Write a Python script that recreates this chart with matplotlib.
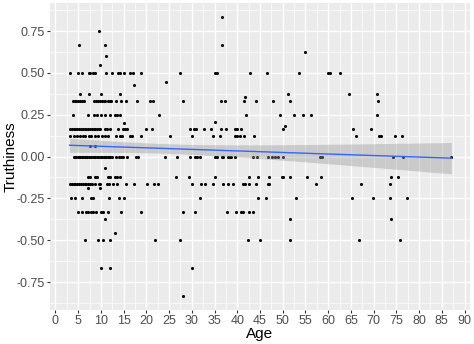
import numpy as np
import matplotlib
matplotlib.use("Agg")
import matplotlib.pyplot as plt

plt.rcParams['font.family'] = ['Liberation Sans', 'DejaVu Sans']

# ages at each truthiness level
age_p833 = [36.6]
age_p75 = [9.5]
age_p667 = [5.1, 10.8, 36.6]
age_p625 = [54.9]
age_p6 = [11.1]
age_p545 = [9.9]
age_p5 = [3.1, 5.0, 5.9, 7.3, 7.7, 8.2, 8.6, 11.1, 12.4, 13.8, 14.2, 15.1, 16.5, 17.1,
          18.9, 27.3, 35.1, 35.6, 42.9, 46.5, 53.5, 60.0, 60.3, 62.6]
age_p444 = [24.3]
age_p429 = [17.2]
age_p375 = [5.5, 7.3, 10.0, 14.3, 51.1, 64.5, 70.7]
age_p357 = [41.6]
age_p333 = [3.8, 4.2, 4.6, 5.0, 5.4, 5.8, 6.2, 8.5, 8.9, 9.3, 9.8, 10.3, 10.6, 11.0, 11.5,
            12.0, 12.3, 13.3, 14.5, 15.6, 17.9, 20.7, 21.5, 28.0, 36.5, 37.3, 41.4, 44.2,
            47.9, 51.7, 70.9]
age_p25 = [3.9, 7.2, 8.4, 9.1, 10.0, 10.9, 11.9, 13.0, 13.6, 14.3, 22.7, 41.9, 49.4, 52.5,
           54.4, 56.3, 70.7]
age_p208 = [35.1]
age_p2 = [15.1]
age_p183 = [50.6]
age_p167 = [3.3, 3.7, 4.0, 4.4, 4.8, 5.2, 5.6, 6.0, 6.4, 6.8, 7.2, 7.6, 8.0, 8.4, 8.8, 9.1,
            9.5, 9.9, 11.0, 11.4, 12.1, 13.7, 14.8, 15.4, 15.8, 20.0, 21.3, 29.5, 30.4, 30.9,
            32.6, 34.2, 36.5, 37.5, 39.4, 39.9, 40.8, 50.1, 65.5, 69.4]
age_p125 = [3.3, 4.0, 4.8, 5.5, 6.0, 6.4, 7.3, 7.8, 8.8, 9.3, 10.2, 11.0, 11.6, 13.4, 14.3,
            14.6, 16.5, 16.8, 18.9, 25.2, 30.1, 34.6, 36.2, 39.4, 40.0, 40.5, 41.5, 43.7,
            66.1, 71.1, 71.7, 74.8, 76.2]
age_p0625 = [7.5, 8.8]
age_0 = [4.0, 4.3, 4.6, 4.9, 5.2, 5.5, 5.8, 6.1, 6.4, 6.7, 7.0, 7.3, 7.6, 7.9, 8.2, 8.5, 8.8,
         9.1, 9.4, 9.7, 10.0, 10.3, 10.6, 10.9, 11.2, 11.5, 11.8, 12.1, 12.4, 13.4, 13.9,
         14.5, 14.9, 15.8, 17.8, 18.1, 24.1, 26.8, 29.6, 30.7, 31.1, 31.8, 35.1, 35.5, 36.6,
         36.9, 38.0, 38.4, 38.6, 39.4, 43.5, 44.3, 46.8, 47.6, 48.3, 48.9, 50.1, 58.1, 58.6,
         74.3, 76.5, 87.1]
age_n07 = [10.8]
age_n125 = [7.1, 7.5, 8.6, 9.1, 11.5, 11.9, 13.0, 13.5, 14.3, 26.6, 29.3, 35.1, 42.5, 44.6,
            47.0, 49.8, 50.1, 51.6, 55.4, 58.4, 73.9, 75.4]
age_n167 = [3.3, 3.7, 4.0, 4.4, 4.8, 5.2, 5.6, 6.0, 6.4, 6.8, 7.2, 7.6, 8.0, 8.6, 9.5, 9.9,
            11.3, 11.8, 12.7, 13.5, 15.5, 17.2, 20.1, 21.6, 22.5, 30.1, 32.0, 32.8, 34.6,
            36.8, 38.0, 39.1, 41.3, 41.7, 42.5, 44.1, 46.7, 47.0, 57.3, 67.3, 73.6]
age_n19 = [7.1, 9.7]
age_n25 = [3.4, 4.4, 5.9, 7.8, 8.3, 11.7, 14.0, 15.0, 31.8, 44.5, 46.4, 53.0, 65.3, 69.8,
           73.6, 77.4]
age_n333 = [4.9, 5.9, 6.8, 7.1, 7.8, 8.3, 8.9, 10.0, 10.5, 11.5, 14.4, 18.9, 28.0, 30.6,
            37.7, 39.7, 40.8, 41.3, 42.6, 43.4]
age_n375 = [11.0, 51.6, 73.9]
age_n46 = [13.2]
age_n5 = [6.4, 9.4, 10.4, 12.1, 21.9, 27.5, 42.4, 45.0, 51.6, 66.8, 75.9]
age_n667 = [10.0, 11.9, 30.1]
age_n833 = [28.0]

groups = [
    (0.833, age_p833), (0.75, age_p75), (0.667, age_p667), (0.625, age_p625),
    (0.6, age_p6), (0.545, age_p545), (0.5, age_p5), (0.444, age_p444),
    (0.429, age_p429), (0.375, age_p375), (0.357, age_p357), (0.333, age_p333),
    (0.25, age_p25), (0.208, age_p208), (0.2, age_p2), (0.183, age_p183),
    (0.167, age_p167), (0.125, age_p125), (0.0625, age_p0625), (0.0, age_0),
    (-0.07, age_n07), (-0.125, age_n125), (-0.167, age_n167), (-0.19, age_n19),
    (-0.25, age_n25), (-0.333, age_n333), (-0.375, age_n375), (-0.46, age_n46),
    (-0.5, age_n5), (-0.667, age_n667), (-0.833, age_n833),
]

age = np.concatenate([np.asarray(a, float) for v, a in groups])
truth = np.concatenate([np.full(len(a), v) for v, a in groups])

# linear fit with 95% confidence band (like geom_smooth(method="lm"))
n = len(age)
slope, icept = np.polyfit(age, truth, 1)
resid = truth - (icept + slope * age)
s = np.sqrt(np.sum(resid ** 2) / (n - 2))
xm = age.mean()
sxx = np.sum((age - xm) ** 2)
xs = np.linspace(age.min(), age.max(), 80)
fit = icept + slope * xs
half = 1.97 * s * np.sqrt(1.0 / n + (xs - xm) ** 2 / sxx)

fig = plt.figure(figsize=(4.74, 3.44), dpi=100)
ax = fig.add_axes([0.1055, 0.099, 0.886, 0.892])
ax.set_facecolor("#EBEBEB")
for sp in ax.spines.values():
    sp.set_visible(False)

ax.set_xlim(-1.2, 91.2)
ax.set_ylim(-0.917, 0.917)
ax.set_xticks(np.arange(0, 91, 5))
ax.set_xticks(np.arange(2.5, 91, 5), minor=True)
ax.set_yticks([-0.75, -0.5, -0.25, 0, 0.25, 0.5, 0.75])
ax.set_yticks([-0.875, -0.625, -0.375, -0.125, 0.125, 0.375, 0.625, 0.875], minor=True)
ax.set_yticklabels(["-0.75", "-0.50", "-0.25", "0.00", "0.25", "0.50", "0.75"])
ax.grid(which="major", color="white", linewidth=1.0)
ax.grid(which="minor", color="white", linewidth=0.5)
ax.set_axisbelow(True)
ax.tick_params(which="major", length=2.5, width=0.8, color="#333333",
               labelsize=9, labelcolor="#4D4D4D", pad=1.5)
ax.tick_params(which="minor", length=0)

ax.scatter(age, truth, s=5, color="black", linewidths=0, zorder=3)
ax.fill_between(xs, fit - half, fit + half, color="#999999", alpha=0.4,
                linewidth=0, zorder=4)
ax.plot(xs, fit, color="#3366FF", linewidth=1.0, zorder=5)

ax.set_xlabel("Age", fontsize=11, labelpad=0)
ax.set_ylabel("Truthiness", fontsize=11)
ax.yaxis.set_label_coords(-0.078, 0.5)

fig.savefig("out.png", dpi=100)
